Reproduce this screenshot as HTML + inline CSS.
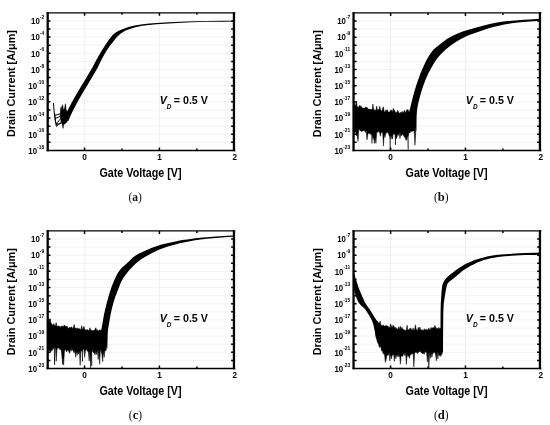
<!DOCTYPE html>
<html lang="en">
<head>
<meta charset="utf-8">
<title>Transfer characteristics</title>
<style>
html,body{margin:0;padding:0;background:#fff}
body{width:550px;height:425px;overflow:hidden;font-family:"Liberation Sans",sans-serif}
svg{display:block;filter:blur(.35px)}
.gh{stroke:#dddddd;stroke-width:.7;stroke-dasharray:1 1;fill:none}
.gv{stroke:#e6e6e6;stroke-width:.8;stroke-dasharray:1.4 .6;fill:none}
.axv{stroke:#000;stroke-width:2.3;fill:none}
.axh{stroke:#000;stroke-width:1.3;fill:none}
.axb{stroke:#000;stroke-width:1.55;fill:none}
.tk{stroke:#000;stroke-width:1.5;fill:none}
.bd{fill:#000;stroke:none}
.ink{fill:#000;stroke:#000;stroke-width:.5;stroke-linejoin:round}
.spk{stroke:#000;stroke-width:.95;fill:none;stroke-linecap:round}
.ln{stroke:#000;fill:none;stroke-linejoin:round;stroke-linecap:round}
text{font-family:"Liberation Sans",sans-serif;fill:#000}
.yl{font-size:9.7px;font-weight:bold;text-anchor:end}
.sup{font-size:6px;font-weight:bold}
.xl{font-size:9.7px;font-weight:bold;text-anchor:middle}
.ttl{font-size:10.4px;font-weight:bold;text-anchor:middle}
.ttlx{font-size:12px;font-weight:bold;text-anchor:middle}
.ann{font-size:10.7px;font-weight:bold}
.it{font-style:italic}
.sub{font-size:6.4px;font-style:italic}
.capt{font-family:"Liberation Serif",serif;font-size:11.5px;text-anchor:middle;fill:#111}
.capb{font-weight:bold;font-size:12.6px}
.cap{font-weight:bold}
</style>
</head>
<body>
<svg width="550" height="425" viewBox="0 0 550 425">
<rect x="0" y="0" width="550" height="425" fill="#fff"/>
<g>
<path d="M47.1 20.9H234.3M47.1 28.99H234.3M47.1 37.09H234.3M47.1 45.19H234.3M47.1 53.29H234.3M47.1 61.38H234.3M47.1 69.48H234.3M47.1 77.58H234.3M47.1 85.67H234.3M47.1 93.77H234.3M47.1 101.87H234.3M47.1 109.96H234.3M47.1 118.06H234.3M47.1 126.16H234.3M47.1 134.26H234.3M47.1 142.35H234.3" class="gh"/>
<path d="M84.54 12.8V150.45M159.42 12.8V150.45" class="gv"/>
<polygon points="64.6,120.2 64.97,118.53 65.72,115.17 67.2,111.3 69.4,106.9 71.7,102.53 74.1,98.17 79.22,89.5 87.08,76.5 92.25,67.67 94.75,63.03 97.2,58.53 99.6,54.17 101.97,50.15 104.33,46.45 106.62,43 108.88,39.8 110.83,37.25 112.47,35.35 114.1,33.75 115.7,32.45 117.83,31.23 120.47,30.07 123.1,29 125.7,28 128.47,27.1 131.43,26.3 134.53,25.6 137.78,25 141.05,24.5 144.35,24.1 149.5,23.57 156.5,22.93 168.75,22.2 186.25,21.4 204.62,20.93 223.88,20.77 233.5,20.7 233.5,21.6 223.88,21.68 204.62,21.82 186.25,22.4 168.75,23.4 156.5,24.26 149.5,24.99 144.35,25.59 141.05,26.06 137.78,26.73 134.53,27.57 131.43,28.48 128.47,29.42 125.7,30.6 123.1,32 121.15,33.23 119.85,34.27 118.53,35.47 117.17,36.83 115.85,38.33 114.55,39.97 112.93,42 110.97,44.4 108.9,47.2 106.7,50.4 104.45,54.17 102.15,58.53 99.88,63.03 97.62,67.67 92.58,76.5 84.72,89.5 79.6,98.17 77.2,102.53 74.9,106.9 72.7,111.3 70.77,115.35 69.12,119.05 68.3,120.9" class="bd"/>
<polygon points="60.6,109 61.2,106.5 61.9,110 62.6,104.6 63.6,111 64.6,108 65.4,103.8 66.2,110 67.6,112.5 68.4,117.5 66.9,122.2 65,123.5 63.6,125 63,128.4 62.2,124 61,121 60.2,116" class="ink"/>
<polyline points="53.5,103.3 54.2,112 55.2,120 56.2,125.6 57.6,122.5 59.2,120.2 61,118.6" class="ln" stroke-width="1"/>
<polyline points="54.6,113.5 55.6,121.5 56.8,124.5 59,123.8 61.2,121.5" class="ln" stroke-width="0.9"/>
<polyline points="55,115.2 58,114.6 61,113.4" class="ln" stroke-width="1"/>
<polyline points="55.4,118.2 58.2,117.4 61,115.8" class="ln" stroke-width="1"/>
<polyline points="56.4,126.4 58.4,124.6 61.4,123.2 62.6,122.4" class="ln" stroke-width="1"/>
<path d="M47.7 12.2V151.15M233.95 12.2V151.15" class="axv"/>
<path d="M46.6 12.8H235.3" class="axh"/><path d="M46.6 150.45H235.3" class="axb"/>
<path d="M47.1 20.9h3.4M234.3 20.9h-3.2M47.1 28.99h3.4M234.3 28.99h-3.2M47.1 37.09h3.4M234.3 37.09h-3.2M47.1 45.19h3.4M234.3 45.19h-3.2M47.1 53.29h3.4M234.3 53.29h-3.2M47.1 61.38h3.4M234.3 61.38h-3.2M47.1 69.48h3.4M234.3 69.48h-3.2M47.1 77.58h3.4M234.3 77.58h-3.2M47.1 85.67h3.4M234.3 85.67h-3.2M47.1 93.77h3.4M234.3 93.77h-3.2M47.1 101.87h3.4M234.3 101.87h-3.2M47.1 109.96h3.4M234.3 109.96h-3.2M47.1 118.06h3.4M234.3 118.06h-3.2M47.1 126.16h3.4M234.3 126.16h-3.2M47.1 134.26h3.4M234.3 134.26h-3.2M47.1 142.35h3.4M234.3 142.35h-3.2" class="tk"/>
<path d="M84.54 12.8v3M84.54 150.45v-3M121.98 12.8v2M121.98 150.45v-2M159.42 12.8v3M159.42 150.45v-3M196.86 12.8v2M196.86 150.45v-2" class="tk"/>
<text transform="translate(44.1 24.2) scale(.81 1)" class="yl">10<tspan class="sup" dy="-5.2">-2</tspan></text>
<text transform="translate(44.1 40.39) scale(.81 1)" class="yl">10<tspan class="sup" dy="-5.2">-4</tspan></text>
<text transform="translate(44.1 56.59) scale(.81 1)" class="yl">10<tspan class="sup" dy="-5.2">-6</tspan></text>
<text transform="translate(44.1 72.78) scale(.81 1)" class="yl">10<tspan class="sup" dy="-5.2">-8</tspan></text>
<text transform="translate(44.1 88.97) scale(.81 1)" class="yl">10<tspan class="sup" dy="-5.2">-10</tspan></text>
<text transform="translate(44.1 105.17) scale(.81 1)" class="yl">10<tspan class="sup" dy="-5.2">-12</tspan></text>
<text transform="translate(44.1 121.36) scale(.81 1)" class="yl">10<tspan class="sup" dy="-5.2">-14</tspan></text>
<text transform="translate(44.1 137.56) scale(.81 1)" class="yl">10<tspan class="sup" dy="-5.2">-16</tspan></text>
<text transform="translate(44.1 153.75) scale(.81 1)" class="yl">10<tspan class="sup" dy="-5.2">-18</tspan></text>
<text transform="translate(84.54 160.15) scale(.85 1)" class="xl">0</text>
<text transform="translate(159.42 160.15) scale(.85 1)" class="xl">1</text>
<text transform="translate(234.7 160.15) scale(.85 1)" class="xl">2</text>
<text x="140.5" y="176.95" class="ttlx" textLength="82" lengthAdjust="spacingAndGlyphs">Gate Voltage [V]</text>
<text transform="translate(14.7 83.62) rotate(-90)" class="ttl" textLength="107" lengthAdjust="spacingAndGlyphs">Drain Current [A/μm]</text>
<text x="159.7" y="104.1" class="ann"><tspan class="it">V</tspan><tspan class="sub" dy="4.8">D</tspan><tspan dy="-4.8" dx="-0.7"> = 0.5 V</tspan></text>
<text x="135.2" y="200.6" class="capt">(<tspan class="cap">a</tspan>)</text>
</g>
<g>
<path d="M353.2 20.99H540.3M353.2 29.08H540.3M353.2 37.17H540.3M353.2 45.26H540.3M353.2 53.36H540.3M353.2 61.45H540.3M353.2 69.54H540.3M353.2 77.63H540.3M353.2 85.72H540.3M353.2 93.81H540.3M353.2 101.9H540.3M353.2 109.99H540.3M353.2 118.09H540.3M353.2 126.18H540.3M353.2 134.27H540.3M353.2 142.36H540.3" class="gh"/>
<path d="M390.62 12.9V150.45M465.46 12.9V150.45" class="gv"/>
<polygon points="408.8,113 409.03,112.25 409.47,110.75 410.17,108 411.13,104 412.45,98.78 414.15,92.32 416.05,85.95 418.15,79.65 420.62,73.12 423.47,66.38 425.97,61.08 428.12,57.22 430.17,53.97 432.13,51.33 433.83,49.35 435.27,48.05 438.18,45.65 442.52,42.15 446.9,39.1 451.3,36.5 456.55,34 462.65,31.6 469.27,29.4 476.43,27.4 482.9,25.65 488.7,24.15 494.38,22.95 499.92,22.05 505.77,21.3 511.93,20.7 517.9,20.2 523.7,19.8 529.95,19.4 536.65,19 540,18.8 540,20.9 536.65,21.12 529.95,21.58 523.7,22.08 517.9,22.62 511.93,23.35 505.77,24.25 499.92,25.38 494.38,26.72 488.7,28.37 482.9,30.33 476.43,32.53 469.27,34.98 462.65,37.95 456.55,41.45 451.4,44.9 447.2,48.3 443.58,51.5 440.52,54.5 437.73,57.75 435.17,61.25 432.1,66.38 428.5,73.12 425.52,79.65 423.18,85.95 421.15,92.2 419.45,98.4 418.1,104.12 417.1,109.38 416.55,116.75 416.45,126.25 416.4,131" class="bd"/>
<polygon points="354.2,105.4 354.95,103.14 355.7,106.72 356.45,101 357.2,106.56 357.95,107.1 358.7,107.33 359.45,105.21 360.2,106.88 360.95,105.56 361.7,107.55 362.45,108.01 363.2,108.01 363.95,108.09 364.7,108.03 365.45,107.3 366.2,107.48 366.95,107.14 367.7,108.49 368.45,109.13 369.2,109.12 369.95,109.26 370.7,109.55 371.45,109.52 372.2,109.29 372.95,103.99 373.7,109.98 374.45,109.84 375.2,110.31 375.95,110.3 376.7,106.03 377.45,110.43 378.2,109.17 378.95,110.61 379.7,106.21 380.45,109.34 381.2,110.67 381.95,111.3 382.7,108.08 383.45,106.68 384.2,111.84 384.95,112.02 385.7,110.13 386.45,110.45 387.2,109.53 387.95,111.68 388.7,112.01 389.45,111.93 390.2,111.03 390.95,109.79 391.7,110.56 392.45,112.18 393.2,108.49 393.95,109.52 394.7,110.72 395.45,112.44 396.2,112.54 396.95,112.41 397.7,110.16 398.45,112.18 399.2,113.03 399.95,113.09 400.7,112.33 401.45,112.63 402.2,111.26 402.95,112.76 403.7,112.25 404.45,110.18 405.2,112.25 405.95,112.38 406.7,109.69 407.45,109.68 408.2,109.66 408.95,112.4 409.7,113.01 410.45,110.37 411.2,111.8 411.95,108.99 412.7,112.49 413.45,110.96 414.2,112.23 414.95,112.64 415.7,112.4 415.7,133.11 414.95,145.26 414.2,131.35 413.45,130.9 412.7,131.11 411.95,131.69 411.2,131.07 410.45,132.12 409.7,132.99 408.95,132.44 408.2,136.08 407.45,137.07 406.7,139.86 405.95,140.48 405.2,136.71 404.45,137.42 403.7,135.32 402.95,135.31 402.2,133.57 401.45,136.01 400.7,133.77 399.95,138.64 399.2,131.98 398.45,135.4 397.7,133.99 396.95,137.2 396.2,138.86 395.45,135.56 394.7,133.37 393.95,134.61 393.2,133.06 392.45,139.14 391.7,135.56 390.95,139.24 390.2,134.75 389.45,136.4 388.7,134.52 387.95,132.11 387.2,132.8 386.45,132.72 385.7,133.75 384.95,137.46 384.2,133.88 383.45,146.12 382.7,132.8 381.95,132.51 381.2,132.06 380.45,136.28 379.7,132.71 378.95,131.84 378.2,131.58 377.45,132.38 376.7,132.24 375.95,143.26 375.2,137.56 374.45,143.45 373.7,136.97 372.95,139.36 372.2,135.12 371.45,134.46 370.7,134.48 369.95,132.82 369.2,133.87 368.45,132.78 367.7,135.12 366.95,139.92 366.2,129.98 365.45,132.61 364.7,130.72 363.95,130.14 363.2,131.1 362.45,130.97 361.7,131.71 360.95,130.37 360.2,131.2 359.45,129.24 358.7,129.14 357.95,138.7 357.2,131.72 356.45,136.09 355.7,130.87 354.95,133.05 354.2,131.65" class="ink"/>
<polyline points="389.9,128 390.2,149.6" class="ln" stroke-width="0.9"/>
<polyline points="407.9,128 408.2,149.2" class="ln" stroke-width="0.9"/>
<polyline points="395.2,128 395.5,144.5" class="ln" stroke-width="0.9"/>
<polyline points="371.7,128 372,143" class="ln" stroke-width="0.9"/>
<polyline points="357.7,128 358,141" class="ln" stroke-width="0.9"/>
<path d="M353.55 12.3V151.15M539.95 12.3V151.15" class="axv"/>
<path d="M352.7 12.9H541.3" class="axh"/><path d="M352.7 150.45H541.3" class="axb"/>
<path d="M353.2 20.99h3.4M540.3 20.99h-3.2M353.2 29.08h3.4M540.3 29.08h-3.2M353.2 37.17h3.4M540.3 37.17h-3.2M353.2 45.26h3.4M540.3 45.26h-3.2M353.2 53.36h3.4M540.3 53.36h-3.2M353.2 61.45h3.4M540.3 61.45h-3.2M353.2 69.54h3.4M540.3 69.54h-3.2M353.2 77.63h3.4M540.3 77.63h-3.2M353.2 85.72h3.4M540.3 85.72h-3.2M353.2 93.81h3.4M540.3 93.81h-3.2M353.2 101.9h3.4M540.3 101.9h-3.2M353.2 109.99h3.4M540.3 109.99h-3.2M353.2 118.09h3.4M540.3 118.09h-3.2M353.2 126.18h3.4M540.3 126.18h-3.2M353.2 134.27h3.4M540.3 134.27h-3.2M353.2 142.36h3.4M540.3 142.36h-3.2" class="tk"/>
<path d="M390.62 12.9v3M390.62 150.45v-3M428.04 12.9v2M428.04 150.45v-2M465.46 12.9v3M465.46 150.45v-3M502.88 12.9v2M502.88 150.45v-2" class="tk"/>
<text transform="translate(350.2 24.29) scale(.81 1)" class="yl">10<tspan class="sup" dy="-5.2">-7</tspan></text>
<text transform="translate(350.2 40.47) scale(.81 1)" class="yl">10<tspan class="sup" dy="-5.2">-9</tspan></text>
<text transform="translate(350.2 56.66) scale(.81 1)" class="yl">10<tspan class="sup" dy="-5.2">-11</tspan></text>
<text transform="translate(350.2 72.84) scale(.81 1)" class="yl">10<tspan class="sup" dy="-5.2">-13</tspan></text>
<text transform="translate(350.2 89.02) scale(.81 1)" class="yl">10<tspan class="sup" dy="-5.2">-15</tspan></text>
<text transform="translate(350.2 105.2) scale(.81 1)" class="yl">10<tspan class="sup" dy="-5.2">-17</tspan></text>
<text transform="translate(350.2 121.39) scale(.81 1)" class="yl">10<tspan class="sup" dy="-5.2">-19</tspan></text>
<text transform="translate(350.2 137.57) scale(.81 1)" class="yl">10<tspan class="sup" dy="-5.2">-21</tspan></text>
<text transform="translate(350.2 153.75) scale(.81 1)" class="yl">10<tspan class="sup" dy="-5.2">-23</tspan></text>
<text transform="translate(390.62 160.15) scale(.85 1)" class="xl">0</text>
<text transform="translate(465.46 160.15) scale(.85 1)" class="xl">1</text>
<text transform="translate(540.7 160.15) scale(.85 1)" class="xl">2</text>
<text x="446.55" y="176.95" class="ttlx" textLength="82" lengthAdjust="spacingAndGlyphs">Gate Voltage [V]</text>
<text transform="translate(320.8 83.67) rotate(-90)" class="ttl" textLength="107" lengthAdjust="spacingAndGlyphs">Drain Current [A/μm]</text>
<text x="465.8" y="104.2" class="ann"><tspan class="it">V</tspan><tspan class="sub" dy="4.8">D</tspan><tspan dy="-4.8" dx="-0.7"> = 0.5 V</tspan></text>
<text x="441.3" y="200.6" class="capt">(<tspan class="capb">b</tspan>)</text>
</g>
<g>
<path d="M47.1 238.99H234.3M47.1 247.09H234.3M47.1 255.18H234.3M47.1 263.28H234.3M47.1 271.37H234.3M47.1 279.46H234.3M47.1 287.56H234.3M47.1 295.65H234.3M47.1 303.75H234.3M47.1 311.84H234.3M47.1 319.94H234.3M47.1 328.03H234.3M47.1 336.12H234.3M47.1 344.22H234.3M47.1 352.31H234.3M47.1 360.41H234.3" class="gh"/>
<path d="M84.54 230.9V368.5M159.42 230.9V368.5" class="gv"/>
<polygon points="100.6,332 100.92,330.75 101.58,328.25 102.48,323.5 103.62,316.5 105.03,309.75 106.67,303.25 108.38,297.05 110.12,291.15 111.88,286.02 113.62,281.68 115.6,277.32 117.8,272.98 120.05,269.65 122.35,267.35 124.72,265.17 127.18,263.12 129.2,261.23 130.8,259.48 132.95,257.6 135.65,255.6 138.57,253.8 141.73,252.2 146.23,250.2 152.07,247.8 156.25,246.2 158.75,245.4 161.65,244.6 164.95,243.8 169.5,242.75 175.3,241.45 179.65,240.58 182.55,240.12 187.25,239.45 193.75,238.55 200.25,237.8 206.75,237.2 215.88,236.53 227.62,235.78 233.5,235.4 233.5,236.7 227.62,237.1 215.88,237.9 206.75,238.7 200.25,239.5 193.75,240.55 187.25,241.85 182.55,242.78 179.65,243.32 175.3,244.42 169.5,246.08 164.95,247.5 161.65,248.7 158.75,249.83 156.25,250.88 152.07,253 146.23,256.2 141.85,258.83 138.95,260.88 136.03,263.35 133.07,266.25 130.85,268.47 129.35,270.03 126.97,272.98 123.72,277.32 121.22,281.68 119.47,286.02 117.47,291.15 115.22,297.05 113.27,303.25 111.62,309.75 110.22,316.5 109.08,323.5 108.33,328 107.97,330 107.67,335.5 107.42,344.5 107.3,349" class="bd"/>
<polygon points="47.9,317.64 48.65,321.09 49.4,322.02 50.15,318.55 50.9,322.46 51.65,323.94 52.4,324.89 53.15,325.29 53.9,323.58 54.65,325.87 55.4,326.11 56.15,322.51 56.9,326.21 57.65,326.13 58.4,326.01 59.15,326.05 59.9,326.9 60.65,326.69 61.4,326.34 62.15,325.85 62.9,327 63.65,326.05 64.4,325.04 65.15,325.81 65.9,327.07 66.65,325.9 67.4,326.71 68.15,328.14 68.9,328.14 69.65,327.18 70.4,327.65 71.15,326.89 71.9,327.35 72.65,328.38 73.4,327.25 74.15,324.45 74.9,328.22 75.65,327.94 76.4,328.83 77.15,328.27 77.9,328.03 78.65,329.05 79.4,328.78 80.15,329.34 80.9,329.66 81.65,325.62 82.4,329.54 83.15,328.85 83.9,326.3 84.65,329.18 85.4,329.79 86.15,330.15 86.9,329.53 87.65,329.81 88.4,330.39 89.15,330.31 89.9,327.75 90.65,330 91.4,330.14 92.15,330.69 92.9,330.41 93.65,330.52 94.4,330.4 95.15,329.02 95.9,327.71 96.65,331.11 97.4,329.57 98.15,331.24 98.9,330.54 99.65,329.71 100.4,330.05 101.15,330.73 101.9,331.06 102.65,331.05 103.4,330.64 104.15,331.25 104.9,331.02 105.65,329.72 106.4,330.5 106.4,348.88 105.65,351.04 104.9,350.3 104.15,357.3 103.4,351.37 102.65,361.71 101.9,354.07 101.15,351.35 100.4,349.94 99.65,364.35 98.9,349.51 98.15,359.45 97.4,350.03 96.65,354.54 95.9,350.78 95.15,354.7 94.4,353.38 93.65,352.44 92.9,352.31 92.15,350.36 91.4,350.84 90.65,367.9 89.9,351.15 89.15,360.98 88.4,351.66 87.65,351.47 86.9,349.95 86.15,349.25 85.4,351.16 84.65,357.37 83.9,348.78 83.15,349.23 82.4,351.52 81.65,351.13 80.9,350.03 80.15,365.37 79.4,350.86 78.65,354.01 77.9,351.59 77.15,355.4 76.4,350.41 75.65,357.37 74.9,350.29 74.15,352.91 73.4,351.46 72.65,350.31 71.9,348.41 71.15,351.29 70.4,349.05 69.65,353.53 68.9,351.85 68.15,350.08 67.4,350.15 66.65,351.94 65.9,349.7 65.15,349.7 64.4,351.81 63.65,365.14 62.9,355.34 62.15,358.76 61.4,350.85 60.65,349.67 59.9,349.74 59.15,347.84 58.4,348.28 57.65,347.41 56.9,350.61 56.15,361.45 55.4,347.59 54.65,348.37 53.9,348.24 53.15,348.4 52.4,350.31 51.65,350.09 50.9,351.79 50.15,351.98 49.4,350 48.65,351.01 47.9,347.39" class="ink"/>
<polyline points="54.3,346 54.6,364.5" class="ln" stroke-width="0.9"/>
<polyline points="62.3,346 62.6,364" class="ln" stroke-width="0.9"/>
<polyline points="91.5,346 91.8,365.5" class="ln" stroke-width="0.9"/>
<polyline points="82.2,346 82.5,361" class="ln" stroke-width="0.9"/>
<path d="M47.7 230.3V369.2M233.95 230.3V369.2" class="axv"/>
<path d="M46.6 230.9H235.3" class="axh"/><path d="M46.6 368.5H235.3" class="axb"/>
<path d="M47.1 238.99h3.4M234.3 238.99h-3.2M47.1 247.09h3.4M234.3 247.09h-3.2M47.1 255.18h3.4M234.3 255.18h-3.2M47.1 263.28h3.4M234.3 263.28h-3.2M47.1 271.37h3.4M234.3 271.37h-3.2M47.1 279.46h3.4M234.3 279.46h-3.2M47.1 287.56h3.4M234.3 287.56h-3.2M47.1 295.65h3.4M234.3 295.65h-3.2M47.1 303.75h3.4M234.3 303.75h-3.2M47.1 311.84h3.4M234.3 311.84h-3.2M47.1 319.94h3.4M234.3 319.94h-3.2M47.1 328.03h3.4M234.3 328.03h-3.2M47.1 336.12h3.4M234.3 336.12h-3.2M47.1 344.22h3.4M234.3 344.22h-3.2M47.1 352.31h3.4M234.3 352.31h-3.2M47.1 360.41h3.4M234.3 360.41h-3.2" class="tk"/>
<path d="M84.54 230.9v3M84.54 368.5v-3M121.98 230.9v2M121.98 368.5v-2M159.42 230.9v3M159.42 368.5v-3M196.86 230.9v2M196.86 368.5v-2" class="tk"/>
<text transform="translate(44.1 242.29) scale(.81 1)" class="yl">10<tspan class="sup" dy="-5.2">-7</tspan></text>
<text transform="translate(44.1 258.48) scale(.81 1)" class="yl">10<tspan class="sup" dy="-5.2">-9</tspan></text>
<text transform="translate(44.1 274.67) scale(.81 1)" class="yl">10<tspan class="sup" dy="-5.2">-11</tspan></text>
<text transform="translate(44.1 290.86) scale(.81 1)" class="yl">10<tspan class="sup" dy="-5.2">-13</tspan></text>
<text transform="translate(44.1 307.05) scale(.81 1)" class="yl">10<tspan class="sup" dy="-5.2">-15</tspan></text>
<text transform="translate(44.1 323.24) scale(.81 1)" class="yl">10<tspan class="sup" dy="-5.2">-17</tspan></text>
<text transform="translate(44.1 339.42) scale(.81 1)" class="yl">10<tspan class="sup" dy="-5.2">-19</tspan></text>
<text transform="translate(44.1 355.61) scale(.81 1)" class="yl">10<tspan class="sup" dy="-5.2">-21</tspan></text>
<text transform="translate(44.1 371.8) scale(.81 1)" class="yl">10<tspan class="sup" dy="-5.2">-23</tspan></text>
<text transform="translate(84.54 378.2) scale(.85 1)" class="xl">0</text>
<text transform="translate(159.42 378.2) scale(.85 1)" class="xl">1</text>
<text transform="translate(234.7 378.2) scale(.85 1)" class="xl">2</text>
<text x="140.5" y="395" class="ttlx" textLength="82" lengthAdjust="spacingAndGlyphs">Gate Voltage [V]</text>
<text transform="translate(14.7 301.7) rotate(-90)" class="ttl" textLength="107" lengthAdjust="spacingAndGlyphs">Drain Current [A/μm]</text>
<text x="159.7" y="322.2" class="ann"><tspan class="it">V</tspan><tspan class="sub" dy="4.8">D</tspan><tspan dy="-4.8" dx="-0.7"> = 0.5 V</tspan></text>
<text x="135.5" y="419.2" class="capt">(<tspan class="capb">c</tspan>)</text>
</g>
<g>
<path d="M353.2 238.99H540.3M353.2 247.09H540.3M353.2 255.18H540.3M353.2 263.28H540.3M353.2 271.37H540.3M353.2 279.46H540.3M353.2 287.56H540.3M353.2 295.65H540.3M353.2 303.75H540.3M353.2 311.84H540.3M353.2 319.94H540.3M353.2 328.03H540.3M353.2 336.12H540.3M353.2 344.22H540.3M353.2 352.31H540.3M353.2 360.41H540.3" class="gh"/>
<path d="M390.62 230.9V368.5M465.46 230.9V368.5" class="gv"/>
<polygon points="353.3,271.8 353.58,272.43 354.12,273.68 354.92,276 355.98,279.4 357.05,282.85 358.15,286.35 359.35,289.62 360.65,292.67 361.78,295.3 362.72,297.5 363.75,299.8 364.85,302.2 366.42,304.82 368.48,307.68 370.57,310.85 372.73,314.35 374.68,317.4 376.43,320 378.18,322.1 379.93,323.7 380.8,324.5 376.2,337 375.88,335.75 375.22,333.25 374.4,329.55 373.4,324.65 372.05,320.67 370.35,317.62 368.4,314.35 366.2,310.85 364,308.12 361.8,306.17 360.17,304.55 359.13,303.25 358.08,301.48 357.02,299.23 356,296.48 355,293.23 354.2,290.7 353.6,288.9 353.3,288" class="bd"/>
<polygon points="440.4,352 440.42,346.5 440.48,335.5 440.52,324 440.58,312 440.75,303.55 441.05,298.65 441.38,294.02 441.72,289.68 442.15,286.38 442.65,284.12 443.4,282.18 444.4,280.52 445.57,278.92 446.93,277.38 448.9,275.6 451.5,273.6 453.68,271.93 455.43,270.57 457.85,268.82 460.95,266.68 463.32,265.15 464.98,264.25 466.62,263.43 468.28,262.68 470.73,261.65 473.98,260.35 477.25,259.22 480.55,258.28 483.82,257.38 487.07,256.53 489.52,255.95 491.18,255.65 494,255.28 498,254.82 505,254.22 515,253.47 524.88,252.95 534.62,252.65 539.5,252.5 539.5,254.75 534.62,254.88 524.88,255.12 515,255.61 505,256.34 498,257.02 494,257.68 491.18,258.18 489.52,258.52 487.07,259.17 483.82,260.12 480.55,261.28 477.25,262.62 473.98,264.15 470.73,265.85 468.28,267.2 466.62,268.2 464.98,269.22 463.32,270.28 461.6,271.62 459.8,273.28 457.37,275.33 454.33,277.77 451.5,280 448.9,282 447.28,284.12 446.62,286.38 445.93,289.68 445.18,294.02 444.45,298.65 443.75,303.55 443.32,312 443.18,324 443.08,335.5 443.02,346.5 443,352" class="bd"/>
<polygon points="375.6,322.9 376.35,322.33 377.1,322.69 377.85,324.3 378.6,323.3 379.35,323.4 380.1,321.12 380.85,325.21 381.6,325.3 382.35,325.67 383.1,324.8 383.85,325.71 384.6,326.32 385.35,326.1 386.1,325.32 386.85,326.62 387.6,325.65 388.35,326.9 389.1,327.4 389.85,327.25 390.6,323.92 391.35,326 392.1,328.16 392.85,325.35 393.6,325.79 394.35,326.67 395.1,328.74 395.85,327.32 396.6,328.74 397.35,328.92 398.1,329.08 398.85,326.67 399.6,329.79 400.35,326.23 401.1,329.84 401.85,327.21 402.6,328.8 403.35,329.29 404.1,329.88 404.85,330.16 405.6,330.35 406.35,329.96 407.1,325.15 407.85,330.32 408.6,329.74 409.35,329.29 410.1,328.21 410.85,328.26 411.6,329.91 412.35,330.14 413.1,327.9 413.85,329.89 414.6,330.18 415.35,324.86 416.1,328.46 416.85,330.46 417.6,330.27 418.35,327.33 419.1,329.82 419.85,327.04 420.6,329.38 421.35,330.37 422.1,329.46 422.85,330.55 423.6,330.32 424.35,328.67 425.1,330.45 425.85,329.36 426.6,329.16 427.35,330.15 428.1,329.56 428.85,327.89 429.6,329.75 430.35,329.73 431.1,327.4 431.85,328.45 432.6,327.69 433.35,327.47 434.1,328.24 434.85,325.5 435.6,326.84 436.35,328.82 437.1,328.38 437.85,328.77 438.6,327.42 439.35,329.34 440.1,327.66 440.85,329.3 441.6,329.89 442.35,327.45 442.35,353.59 441.6,354.08 440.85,356.4 440.1,354.7 439.35,355.91 438.6,353.3 437.85,359.02 437.1,351.36 436.35,360.78 435.6,355.11 434.85,352.47 434.1,351.95 433.35,353.22 432.6,353.82 431.85,357.28 431.1,352.38 430.35,358.31 429.6,352.19 428.85,367.9 428.1,352.6 427.35,361.98 426.6,352.83 425.85,351.96 425.1,351.52 424.35,354.27 423.6,352.92 422.85,354.02 422.1,353.21 421.35,352.69 420.6,351.77 419.85,351.56 419.1,351.39 418.35,352.49 417.6,353.74 416.85,352.09 416.1,352.74 415.35,352 414.6,353.23 413.85,366.92 413.1,353.19 412.35,353.65 411.6,354.09 410.85,354.73 410.1,355.12 409.35,358.29 408.6,355.5 407.85,356.54 407.1,353.87 406.35,364.58 405.6,352.13 404.85,355.73 404.1,352.61 403.35,354.51 402.6,356.46 401.85,356.15 401.1,355.65 400.35,364.15 399.6,354.8 398.85,357.15 398.1,353.53 397.35,356.7 396.6,354.69 395.85,358.79 395.1,354.33 394.35,361.42 393.6,353.78 392.85,355.14 392.1,355.36 391.35,358.99 390.6,352.92 389.85,361.02 389.1,351.95 388.35,355.34 387.6,355.02 386.85,355.79 386.1,359.86 385.35,362.39 384.6,354.94 383.85,353.87 383.1,353.62 382.35,350.75 381.6,350.88 380.85,347.36 380.1,346.13 379.35,347.51 378.6,344.39 377.85,342.9 377.1,341.04 376.35,338.16 375.6,335.79" class="ink"/>
<path d="M353.55 230.3V369.2M539.95 230.3V369.2" class="axv"/>
<path d="M352.7 230.9H541.3" class="axh"/><path d="M352.7 368.5H541.3" class="axb"/>
<path d="M353.2 238.99h3.4M540.3 238.99h-3.2M353.2 247.09h3.4M540.3 247.09h-3.2M353.2 255.18h3.4M540.3 255.18h-3.2M353.2 263.28h3.4M540.3 263.28h-3.2M353.2 271.37h3.4M540.3 271.37h-3.2M353.2 279.46h3.4M540.3 279.46h-3.2M353.2 287.56h3.4M540.3 287.56h-3.2M353.2 295.65h3.4M540.3 295.65h-3.2M353.2 303.75h3.4M540.3 303.75h-3.2M353.2 311.84h3.4M540.3 311.84h-3.2M353.2 319.94h3.4M540.3 319.94h-3.2M353.2 328.03h3.4M540.3 328.03h-3.2M353.2 336.12h3.4M540.3 336.12h-3.2M353.2 344.22h3.4M540.3 344.22h-3.2M353.2 352.31h3.4M540.3 352.31h-3.2M353.2 360.41h3.4M540.3 360.41h-3.2" class="tk"/>
<path d="M390.62 230.9v3M390.62 368.5v-3M428.04 230.9v2M428.04 368.5v-2M465.46 230.9v3M465.46 368.5v-3M502.88 230.9v2M502.88 368.5v-2" class="tk"/>
<text transform="translate(350.2 242.29) scale(.81 1)" class="yl">10<tspan class="sup" dy="-5.2">-7</tspan></text>
<text transform="translate(350.2 258.48) scale(.81 1)" class="yl">10<tspan class="sup" dy="-5.2">-9</tspan></text>
<text transform="translate(350.2 274.67) scale(.81 1)" class="yl">10<tspan class="sup" dy="-5.2">-11</tspan></text>
<text transform="translate(350.2 290.86) scale(.81 1)" class="yl">10<tspan class="sup" dy="-5.2">-13</tspan></text>
<text transform="translate(350.2 307.05) scale(.81 1)" class="yl">10<tspan class="sup" dy="-5.2">-15</tspan></text>
<text transform="translate(350.2 323.24) scale(.81 1)" class="yl">10<tspan class="sup" dy="-5.2">-17</tspan></text>
<text transform="translate(350.2 339.42) scale(.81 1)" class="yl">10<tspan class="sup" dy="-5.2">-19</tspan></text>
<text transform="translate(350.2 355.61) scale(.81 1)" class="yl">10<tspan class="sup" dy="-5.2">-21</tspan></text>
<text transform="translate(350.2 371.8) scale(.81 1)" class="yl">10<tspan class="sup" dy="-5.2">-23</tspan></text>
<text transform="translate(390.62 378.2) scale(.85 1)" class="xl">0</text>
<text transform="translate(465.46 378.2) scale(.85 1)" class="xl">1</text>
<text transform="translate(540.7 378.2) scale(.85 1)" class="xl">2</text>
<text x="446.55" y="395" class="ttlx" textLength="82" lengthAdjust="spacingAndGlyphs">Gate Voltage [V]</text>
<text transform="translate(320.8 301.7) rotate(-90)" class="ttl" textLength="107" lengthAdjust="spacingAndGlyphs">Drain Current [A/μm]</text>
<text x="465.8" y="322.2" class="ann"><tspan class="it">V</tspan><tspan class="sub" dy="4.8">D</tspan><tspan dy="-4.8" dx="-0.7"> = 0.5 V</tspan></text>
<text x="441.3" y="419" class="capt">(<tspan class="capb">d</tspan>)</text>
</g>
</svg>
</body>
</html>
